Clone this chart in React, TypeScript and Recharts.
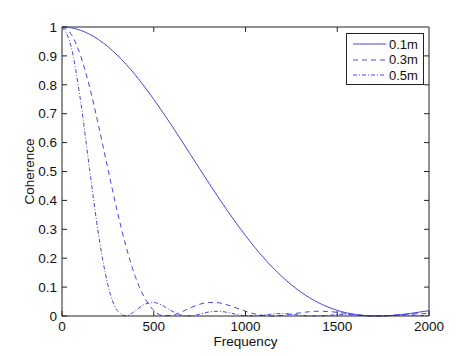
import React from 'react';
import { LineChart, Line, XAxis, YAxis, ReferenceLine } from 'recharts';

// frequency samples (Hz)
const frequency = [
  0, 50, 100, 150, 200, 250, 300, 350, 400, 450, 500, 550, 600, 650, 700, 750, 800, 850, 900, 950,
  1000, 1050, 1100, 1150, 1200, 1250, 1300, 1350, 1400, 1450, 1500, 1550, 1600, 1650, 1700, 1750,
  1800, 1850, 1900, 1950, 2000,
];

// coherence
const mic01 = [
  1, 0.9972, 0.9889, 0.9751, 0.9561, 0.932, 0.9033, 0.8703, 0.8334, 0.7931, 0.7498, 0.7043, 0.6569,
  0.6083, 0.559, 0.5095, 0.4605, 0.4124, 0.3657, 0.3208, 0.2782, 0.2381, 0.2008, 0.1666, 0.1356,
  0.108, 0.0837, 0.0628, 0.0453, 0.0309, 0.0195, 0.011, 0.0051, 0.0016, 0.0001, 0.0004, 0.0022,
  0.0052, 0.0091, 0.0137, 0.0185,
];
const mic03 = [
  1, 0.9751, 0.9033, 0.7931, 0.6569, 0.5095, 0.3657, 0.2381, 0.1356, 0.0628, 0.0195, 0.0016, 0.0022,
  0.0137, 0.0284, 0.0406, 0.0467, 0.0458, 0.0387, 0.028, 0.0166, 0.0072, 0.0015, 0.0, 0.0022,
  0.0065, 0.0113, 0.0149, 0.0165, 0.0155, 0.0126, 0.0086, 0.0045, 0.0015, 0.0001, 0.0004, 0.0021,
  0.0044, 0.0066, 0.0081, 0.0083,
];
const mic05 = [
  1, 0.932, 0.7498, 0.5095, 0.2782, 0.108, 0.0195, 0.0004, 0.0185, 0.0406, 0.0468, 0.0354, 0.0166,
  0.003, 0.0004, 0.0065, 0.0139, 0.0164, 0.0126, 0.0058, 0.0008, 0.0004, 0.0036, 0.0072, 0.0083,
  0.0062, 0.0027, 0.0003, 0.0004, 0.0024, 0.0045, 0.0049, 0.0035, 0.0014, 0.0001, 0.0004, 0.0018,
  0.0031, 0.0033, 0.0022, 0.0008,
];

const xTicks = [0, 500, 1000, 1500, 2000];
const yTicks = [0, 0.1, 0.2, 0.3, 0.4, 0.5, 0.6, 0.7, 0.8, 0.9, 1];

const data = frequency.map((f, i) => ({ f, m01: mic01[i], m03: mic03[i], m05: mic05[i] }));

const blue = '#4646dc';
const font = 'Liberation Sans, Arial, Helvetica, sans-serif';
const axisColor = '#222';
const fs = 13.5;

const legendItems = [
  { name: '0.1m', dash: undefined },
  { name: '0.3m', dash: '5 4' },
  { name: '0.5m', dash: '4 2 1 2' },
];

const LegendBox = () => (
  <div
    style={{
      position: 'absolute',
      left: 346,
      top: 33,
      width: 78,
      height: 52,
      border: '1px solid #222',
      background: '#fff',
      boxSizing: 'border-box',
      fontFamily: font,
      fontSize: 13,
      color: '#111',
    }}
  >
    {legendItems.map((e, i) => (
      <div key={e.name} style={{ position: 'absolute', left: 6, top: 2 + i * 15.5, height: 16, display: 'flex', alignItems: 'center' }}>
        <svg width={33} height={4} style={{ marginRight: 3 }}>
          <line x1={0} y1={2} x2={33} y2={2} stroke={blue} strokeWidth={1} strokeDasharray={e.dash} />
        </svg>
        <span>{e.name}</span>
      </div>
    ))}
  </div>
);

const App = () => {
  return (
    <div style={{ position: 'absolute', left: 0, top: 0, width: 474, height: 356, background: '#fff' }}>
      <LineChart width={474} height={356} data={data} margin={{ top: 27, right: 45, bottom: 10, left: 22 }}>
        <XAxis
          dataKey="f"
          type="number"
          domain={[0, 2000]}
          ticks={xTicks}
          interval={0}
          tickSize={-5}
          tickMargin={10}
          stroke={axisColor}
          tick={{ fill: '#111', fontSize: fs, fontFamily: font }}
          height={30}
          label={{ value: 'Frequency', position: 'insideBottom', offset: 0, fill: '#111', fontSize: fs, fontFamily: font }}
        />
        <YAxis
          type="number"
          domain={[0, 1]}
          ticks={yTicks}
          interval={0}
          tickSize={-5}
          tickMargin={10}
          stroke={axisColor}
          width={40}
          tick={{ fill: '#111', fontSize: fs, fontFamily: font }}
          label={{ value: 'Coherence', angle: -90, position: 'insideLeft', offset: 7, fill: '#111', fontSize: fs, fontFamily: font, style: { textAnchor: 'middle' } }}
        />
        <ReferenceLine y={1} stroke={axisColor} ifOverflow="visible" />
        <ReferenceLine x={2000} stroke={axisColor} ifOverflow="visible" />
        {xTicks.slice(1, -1).map((t) => (
          <ReferenceLine key={'tx' + t} segment={[{ x: t, y: 1 }, { x: t, y: 0.983 }]} stroke={axisColor} ifOverflow="visible" />
        ))}
        {yTicks.slice(1, -1).map((t) => (
          <ReferenceLine key={'ty' + t} segment={[{ x: 2000, y: t }, { x: 1973, y: t }]} stroke={axisColor} ifOverflow="visible" />
        ))}
        <Line type="monotone" dataKey="m01" name="0.1m" stroke={blue} strokeWidth={1} dot={false} isAnimationActive={false} />
        <Line type="monotone" dataKey="m03" name="0.3m" stroke={blue} strokeWidth={1} strokeDasharray="5 4" dot={false} isAnimationActive={false} />
        <Line type="monotone" dataKey="m05" name="0.5m" stroke={blue} strokeWidth={1} strokeDasharray="4 2 1 2" dot={false} isAnimationActive={false} />
      </LineChart>
      <LegendBox />
    </div>
  );
};

export default App;
